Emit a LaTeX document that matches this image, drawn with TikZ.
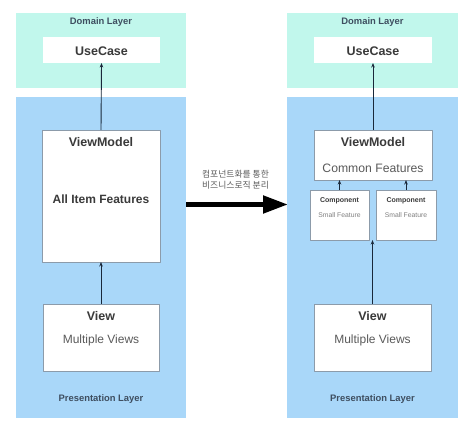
\documentclass[tikz,border=0pt]{standalone}
\usepackage{fontspec}
\setmainfont{Liberation Sans}
\newfontfamily\kofont{Noto Sans CJK KR}
\usetikzlibrary{positioning,arrows.meta}
\definecolor{mint}{HTML}{C1F7EC}
\definecolor{skyblue}{HTML}{A9D7F9}
\definecolor{boxline}{HTML}{8C9BAA}
\definecolor{linkcol}{HTML}{1A283A}
\definecolor{titletxt}{HTML}{3A3A3A}
\definecolor{subtxt}{HTML}{5A5A5A}
\definecolor{layertxt}{HTML}{3E4E60}
\begin{document}
\begin{tikzpicture}[x=1pt, y=-1pt, line join=round, >={Stealth[length=4.5pt,width=3.5pt]},
	layer/.style={inner sep=0pt, outer sep=0pt},
	layerlbl/.style={anchor=base, inner sep=0pt, font=\fontsize{9.4}{11}\selectfont\bfseries, text=layertxt},
	box/.style={fill=white, draw=boxline, line width=0.7pt, inner sep=0pt, outer sep=0pt},
	title/.style={anchor=base, inner sep=0pt, font=\fontsize{12.5}{14}\selectfont\bfseries, text=titletxt},
	sub/.style={anchor=base, inner sep=0pt, font=\fontsize{12}{14}\selectfont, text=subtxt},
	link/.style={->, draw=linkcol, line width=0.9pt}]
	\fill[white] (0,0) rectangle (474,430);
	\useasboundingbox (0,0) rectangle (474,430);
	% 왼쪽: 기존 구조
	\node[layer, fill=mint, minimum width=170pt, minimum height=75pt] (domL) at (101,50.5) {};
	\node[layer, fill=skyblue, minimum width=170pt, minimum height=321pt] (presL) at (101,257.5) {};
	\node[layerlbl] (domLtxt) at (101,24.3) {Domain Layer};
	\node[layerlbl] (presLtxt) at (101,401) {Presentation Layer};
	\node[box, draw=none, minimum width=117pt, minimum height=26pt] (ucL) at (101.5,50) {};
	\node[title] (ucLtxt) at (101.5,55.7) {UseCase};
	\node[box, minimum width=118pt, minimum height=132pt] (vmL) at (101,196) {};
	\node[title] (vmLtxt) at (101,146.7) {ViewModel};
	\node[title, font=\fontsize{12}{14}\selectfont\bfseries] (featL) at (101,203.3) {All Item Features};
	\node[box, minimum width=116pt, minimum height=67pt] (viewL) at (101,337.5) {};
	\node[title] (viewLtxt) at (101,321) {View};
	\node[sub] (viewLsub) at (101,343.3) {Multiple Views};
	\draw[link] (vmL.north) -- (ucL.south);
	\draw[link] (viewL.north) -- (vmL.south);
	% 가운데 화살표
	\coordinate (arrS) at (186,204.5);
	\coordinate (arrE) at (288,204.5);
	\draw[line width=5pt, -{Triangle[length=25pt,width=17pt]}] (arrS) -- (arrE);
	\node[align=center, inner sep=0pt, font=\kofont\fontsize{8.8}{11}\selectfont, text=subtxt] (sepTxt) at (235.5,179.6) {컴포넌트화를 통한\\비즈니스로직 분리};
	% 오른쪽: 컴포넌트 구조
	\node[layer, fill=mint, minimum width=171pt, minimum height=75pt] (domR) at (372.5,50.5) {};
	\node[layer, fill=skyblue, minimum width=171pt, minimum height=321pt] (presR) at (372.5,257.5) {};
	\node[layerlbl] (domRtxt) at (372.5,24.3) {Domain Layer};
	\node[layerlbl] (presRtxt) at (372.5,401) {Presentation Layer};
	\node[box, draw=none, minimum width=118pt, minimum height=26pt] (ucR) at (373,50) {};
	\node[title] (ucRtxt) at (373,55.7) {UseCase};
	\node[box, minimum width=118pt, minimum height=50pt] (vmR) at (373,155) {};
	\node[title] (vmRtxt) at (373,146.7) {ViewModel};
	\node[sub, font=\fontsize{12.2}{14}\selectfont] (vmRsub) at (373,172.3) {Common Features};
	\node[box, minimum width=59pt, minimum height=50pt] (compA) at (339.5,215) {};
	\node[box, minimum width=60pt, minimum height=50pt] (compB) at (406,215) {};
	\foreach \c in {compA, compB} {
		\node[title, font=\fontsize{7}{8}\selectfont\bfseries] (\c txt) at ([yshift=-12.7pt]\c.north) {Component};
		\node[sub, font=\fontsize{6.8}{8}\selectfont, text=gray] (\c sub) at ([yshift=-27.5pt]\c.north) {Small Feature};
		\draw[link] (\c.north) -- (\c.north |- vmR.south);
	}
	\node[box, minimum width=117pt, minimum height=67pt] (viewR) at (372.5,337.5) {};
	\node[title] (viewRtxt) at (372.5,321) {View};
	\node[sub] (viewRsub) at (372.5,343.3) {Multiple Views};
	\draw[link] (vmR.north) -- (ucR.south);
	\draw[link] (viewR.north) -- (viewR.north |- compA.south);
\end{tikzpicture}
\end{document}
